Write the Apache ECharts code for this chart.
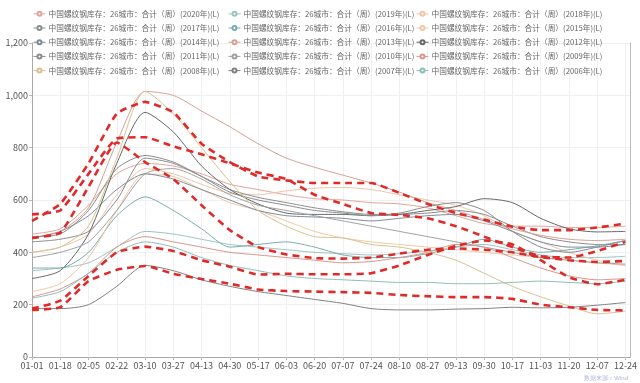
<!DOCTYPE html>
<html><head><meta charset="utf-8">
<script src="https://cdn.jsdelivr.net/npm/echarts@6/dist/echarts.min.js"></script>
<style>html,body{margin:0;padding:0;background:#fff}#c{width:640px;height:383px}</style>
</head><body><div id="c"></div>
<script>
// x-axis tick labels (every 17 days)
var xLabels = ['01-01','01-18','02-05','02-22','03-10','03-27','04-13','04-30','05-17','06-03','06-20','07-07','07-24','08-10','08-27','09-13','09-30','10-17','11-03','11-20','12-07','12-24'];
var yTicks = [0,200,400,600,800,1000,1200];
// values per year at each label date (万吨)
var y2020 = [470,490,580,700,740,730,700,660,640,620,605,600,590,585,570,540,510,500,500,495,495,500];
var y2019 = [330,340,360,420,480,470,450,430,420,410,400,395,390,395,405,420,430,410,390,380,380,385];
var y2018 = [400,420,470,620,720,700,660,625,620,635,645,648,640,620,600,580,540,480,440,400,370,350];
var y2017 = [440,450,480,600,760,740,690,640,610,590,570,555,545,545,550,560,545,500,460,440,430,430];
var y2016 = [340,340,400,540,612,560,490,420,430,440,420,390,380,380,395,420,450,420,400,410,425,445];
var y2015 = [250,280,380,560,700,690,640,590,560,520,480,455,440,430,420,410,400,390,380,370,360,350];
var y2014 = [455,480,540,640,700,680,640,600,560,540,535,530,520,530,540,545,520,480,440,420,420,430];
var y2013 = [455,480,570,820,1015,1000,940,880,815,760,725,695,665,630,590,560,525,490,465,450,445,450];
var y2012 = [300,330,470,740,935,860,730,640,585,550,545,545,540,545,560,575,605,590,530,490,478,480];
var y2011 = [460,470,560,720,770,745,690,630,600,580,560,550,540,550,575,590,560,480,420,400,420,445];
var y2010 = [380,400,440,560,700,720,680,620,580,560,540,520,500,480,460,440,420,400,380,370,360,355];
var y2009 = [230,260,320,420,460,440,420,400,390,380,370,360,365,380,400,430,420,380,340,310,295,300];
var y2008 = [400,420,500,760,1015,930,800,670,560,500,460,455,430,420,400,370,320,270,230,195,165,175];
var y2007 = [185,185,200,270,350,330,295,270,250,235,220,205,185,180,180,183,185,190,188,190,198,208];
var y2006 = [225,250,320,400,440,420,380,350,330,310,300,295,290,285,285,280,280,285,290,285,280,290];
// red dashed highlight lines
var hlA = [520,585,740,930,975,935,815,745,690,675,665,665,665,627,585,550,525,498,485,485,495,510];
var hlB = [545,560,700,835,840,805,775,740,705,680,620,585,550,543,530,500,460,420,385,380,405,440];
var hlC = [455,475,650,820,745,680,580,485,420,392,378,376,380,395,410,415,410,400,382,370,363,367];
var hlD = [185,215,310,400,422,405,370,345,315,318,316,316,320,350,390,425,445,430,370,305,278,295];
var hlE = [180,190,290,333,348,318,298,280,258,252,250,248,245,237,232,229,229,222,200,190,180,178];

var years = ['2020','2019','2018','2017','2016','2015','2014','2013','2012','2011','2010','2009','2008','2007','2006'];
var yearData = [y2020,y2019,y2018,y2017,y2016,y2015,y2014,y2013,y2012,y2011,y2010,y2009,y2008,y2007,y2006];
var yearColors = ['#e6a39a','#9cc3c3','#f0c4a8','#8c8c8c','#77aeb0','#f3c6a5','#7d8b99','#d4a193','#666666','#8a8a8a','#a0a0a0','#d9968a','#d8c28e','#808080','#8dbdb8'];
var hlData = [hlA,hlB,hlC,hlD,hlE];

var STEP = 17;
function toPairs(arr){ return arr.map(function(v,i){ return [i*STEP, v]; }); }
function nm(y){ return '中国螺纹钢库存：26城市：合计（周）(' + y + '年)(L)'; }

var series = [];
years.forEach(function(y,k){
  series.push({
    name: nm(y), type:'line', data: toPairs(yearData[k]), smooth:0.25,
    symbol:'emptyCircle', symbolSize:4, showSymbol:false,
    lineStyle:{width:1, color:yearColors[k]}, itemStyle:{color:yearColors[k]}, z:2
  });
});
hlData.forEach(function(d,k){
  series.push({
    name:'标注' + (k+1), type:'line', data: toPairs(d), smooth:0.15,
    symbol:'none', lineStyle:{width:2.6, color:'#e02a2a', type:[7,5]}, z:5
  });
});

function legendCol(idx, left){
  return {
    orient:'vertical', left:left, top:10, itemGap:6.5, itemWidth:12, itemHeight:5,
    padding:0,
    lineStyle:{width:1},
    itemStyle:{borderWidth:1},
    textStyle:{fontSize:7.7, color:'#666', fontFamily:'Noto Sans CJK SC', padding:[0,0,0,-2]},
    data: idx.map(function(i){ return nm(years[i]); })
  };
}

var chart = echarts.init(document.getElementById('c'), null, {renderer:'canvas'});
chart.setOption({
  animation:false,
  backgroundColor:'#fff',
  textStyle:{fontFamily:'Noto Sans CJK SC'},
  legend:[ legendCol([0,3,6,9,12], 33), legendCol([1,4,7,10,13], 228), legendCol([2,5,8,11,14], 416) ],
  grid:{left:32, right:8, top:43, bottom:26, containLabel:false},
  xAxis:{
    type:'value', min:0, max:360, interval:STEP,
    axisLine:{show:true, lineStyle:{color:'#aaa'}},
    axisTick:{show:true, length:3, lineStyle:{color:'#bbb'}},
    axisLabel:{fontSize:9, color:'#555', margin:4, showMaxLabel:false,
      formatter:function(v){ var i = Math.round(v/STEP); return (v % STEP === 0 && xLabels[i]) ? xLabels[i] : ''; }},
    splitLine:{show:true, lineStyle:{color:'#f0f0f0'}}
  },
  yAxis:[{
    type:'value', min:yTicks[0], max:yTicks[yTicks.length-1], interval:200,
    axisLine:{show:true, lineStyle:{color:'#aaa'}},
    axisTick:{show:true, length:3, lineStyle:{color:'#bbb'}},
    axisLabel:{fontSize:9, color:'#555', margin:4, formatter:function(v){ return v.toLocaleString('en-US'); }},
    splitLine:{show:true, lineStyle:{color:'#f0f0f0'}}
  },{
    type:'value', min:0, max:1200, position:'right',
    axisLine:{show:true, lineStyle:{color:'#bbb'}},
    axisTick:{show:false}, axisLabel:{show:false}, splitLine:{show:false}
  }],
  graphic:[{type:'text', right:12, bottom:2, style:{text:'数据来源：Wind', fontSize:6, fill:'#a8b4dc'}}],
  series: series
});
</script></body></html>
